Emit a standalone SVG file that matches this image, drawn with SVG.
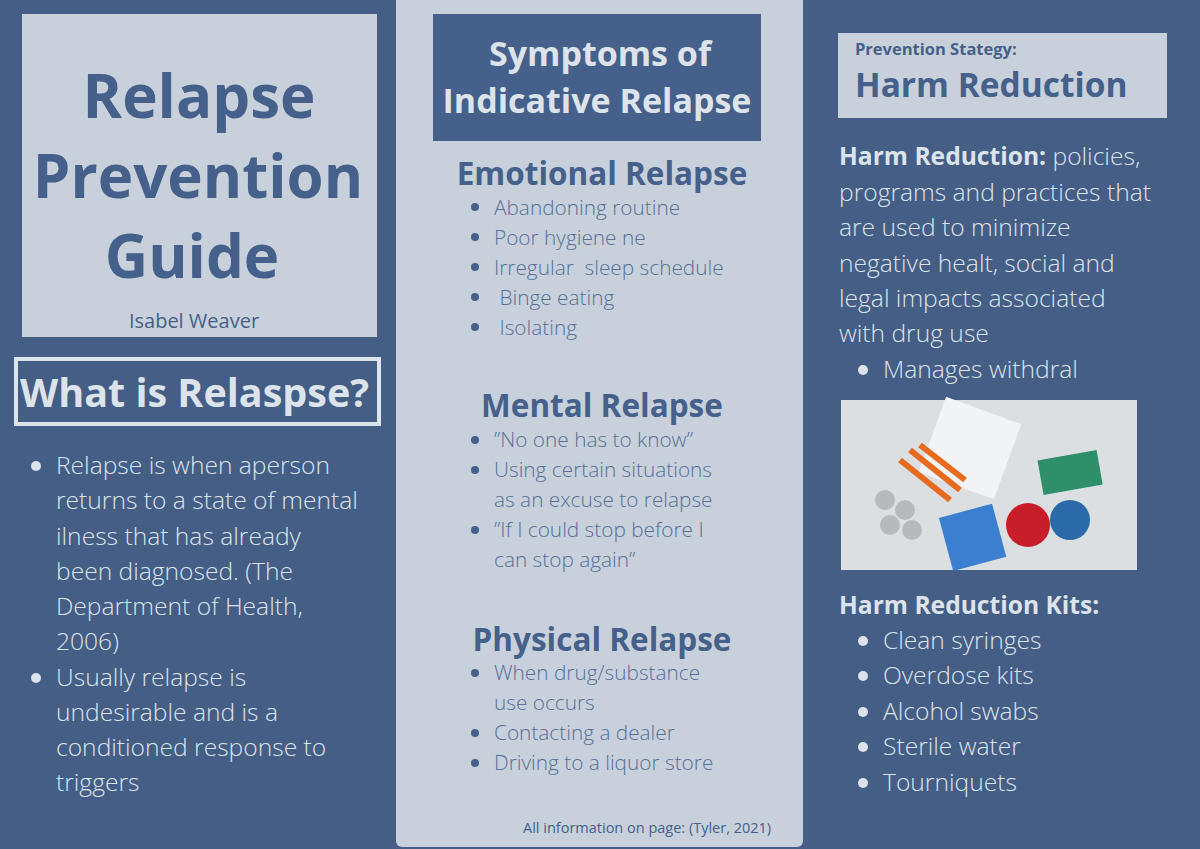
<svg xmlns="http://www.w3.org/2000/svg" width="1200" height="849" viewBox="0 0 1200 849">
<style>
text{font-family:"Open Sans","Noto Sans","Liberation Sans",sans-serif}
.b{font-weight:bold}
.dk{fill:#45608a}
.lt{fill:#dde3ea}
.mid{font-size:20.8px;fill:#56709a;font-weight:300}
.side{font-size:24.6px;fill:#dde3ea;font-weight:300}
</style>
<rect width="1200" height="849" fill="#445e86"/>
<g id="title">
<rect x="22" y="14" width="355" height="323" fill="#c8d1db"/>
<text x="199" y="118" text-anchor="middle" class="b dk" font-size="60">Relapse</text>
<text x="198" y="198" text-anchor="middle" class="b dk" font-size="60">Prevention</text>
<text x="192" y="278" text-anchor="middle" class="b dk" font-size="60">Guide</text>
<text x="194" y="328" text-anchor="middle" class="dk" font-size="20">Isabel Weaver</text>
</g>
<g id="what">
<rect x="16" y="359" width="363" height="65" fill="none" stroke="#dde3ea" stroke-width="4"/>
<text x="20" y="407" class="b lt" font-size="39.5">What is Relaspse?</text>
<g fill="#dde3ea"><circle cx="36" cy="466" r="5"/><circle cx="36" cy="678" r="5"/></g>
<text class="side"><tspan x="56" y="474">Relapse is when aperson</tspan><tspan x="56" y="509">returns to a state of mental</tspan><tspan x="56" y="545">ilness that has already</tspan><tspan x="56" y="580">been diagnosed. (The</tspan><tspan x="56" y="615">Department of Health,</tspan><tspan x="56" y="650">2006)</tspan><tspan x="56" y="686">Usually relapse is</tspan><tspan x="56" y="721">undesirable and is a</tspan><tspan x="56" y="756">conditioned response to</tspan><tspan x="56" y="791">triggers</tspan></text>
</g>
<g id="middle">
<rect x="396" y="-10" width="407" height="857" rx="6" fill="#c8d1db"/>
<rect x="433" y="14" width="328" height="127" fill="#45608a"/>
<text x="600" y="66" text-anchor="middle" class="b lt" font-size="34">Symptoms of</text>
<text x="597" y="113" text-anchor="middle" class="b lt" font-size="34">Indicative Relapse</text>
<text x="602" y="185" text-anchor="middle" class="b dk" font-size="31.5">Emotional Relapse</text>
<text x="602" y="417" text-anchor="middle" class="b dk" font-size="31.5">Mental Relapse</text>
<text x="602" y="651" text-anchor="middle" class="b dk" font-size="31.5">Physical Relapse</text>
<g fill="#45608a">
<circle cx="475" cy="207" r="4"/><circle cx="475" cy="237" r="4"/><circle cx="475" cy="267" r="4"/><circle cx="475" cy="297" r="4"/><circle cx="475" cy="327" r="4"/>
<circle cx="475" cy="440" r="4"/><circle cx="475" cy="470" r="4"/><circle cx="475" cy="530" r="4"/>
<circle cx="475" cy="673" r="4"/><circle cx="475" cy="733" r="4"/><circle cx="475" cy="763" r="4"/>
</g>
<text class="mid" xml:space="preserve"><tspan x="494" y="215">Abandoning routine</tspan><tspan x="494" y="245">Poor hygiene ne</tspan><tspan x="494" y="275">Irregular  sleep schedule</tspan><tspan x="494" y="305"> Binge eating</tspan><tspan x="494" y="335"> Isolating</tspan><tspan x="494" y="447">”No one has to know”</tspan><tspan x="494" y="477">Using certain situations</tspan><tspan x="494" y="507">as an excuse to relapse</tspan><tspan x="494" y="537">”If I could stop before I</tspan><tspan x="494" y="567">can stop again”</tspan><tspan x="494" y="680">When drug/substance</tspan><tspan x="494" y="710">use occurs</tspan><tspan x="494" y="740">Contacting a dealer</tspan><tspan x="494" y="770">Driving to a liquor store</tspan></text>
<text x="523" y="833" class="dk" font-size="14.5">All information on page: (Tyler, 2021)</text>
</g>
<g id="right">
<rect x="838" y="33" width="329" height="85" fill="#c8d1db"/>
<text x="855" y="55" class="b dk" font-size="16.5">Prevention Stategy:</text>
<text x="855" y="97" class="b dk" font-size="33.5">Harm Reduction</text>
<text class="side"><tspan x="839" y="165" font-weight="bold">Harm Reduction:</tspan><tspan> policies,</tspan><tspan x="839" y="201">programs and practices that</tspan><tspan x="839" y="236">are used to minimize</tspan><tspan x="839" y="272">negative healt, social and</tspan><tspan x="839" y="307">legal impacts associated</tspan><tspan x="839" y="342">with drug use</tspan><tspan x="883" y="378">Manages withdral</tspan></text>
<circle cx="863" cy="370" r="5" fill="#dde3ea"/>
<g id="photo">
<rect x="841" y="400" width="296" height="170" fill="#dcdfe2"/>
<rect x="930" y="408" width="80" height="80" fill="#f2f3f5" transform="rotate(20 970 448)"/>
<rect x="1040" y="455" width="60" height="35" fill="#2e8f6a" transform="rotate(-10 1070 472)"/>
<rect x="945" y="510" width="55" height="55" fill="#3b7fd0" transform="rotate(-15 972 537)"/>
<circle cx="1028" cy="525" r="22" fill="#c81e2a"/>
<circle cx="1070" cy="520" r="20" fill="#2b6aa8"/>
<g fill="#b7b9bb"><circle cx="885" cy="500" r="10"/><circle cx="905" cy="510" r="10"/><circle cx="890" cy="525" r="10"/><circle cx="912" cy="530" r="10"/></g>
<g stroke="#e86a1f" stroke-width="6"><line x1="900" y1="460" x2="950" y2="500"/><line x1="910" y1="450" x2="960" y2="490"/><line x1="920" y1="445" x2="965" y2="480"/></g>
</g>
<text x="839" y="614" class="b lt" font-size="24.6">Harm Reduction Kits:</text>
<g fill="#dde3ea"><circle cx="863" cy="641" r="5"/><circle cx="863" cy="676" r="5"/><circle cx="863" cy="712" r="5"/><circle cx="863" cy="747" r="5"/><circle cx="863" cy="783" r="5"/></g>
<text class="side"><tspan x="883" y="649">Clean syringes</tspan><tspan x="883" y="684">Overdose kits</tspan><tspan x="883" y="720">Alcohol swabs</tspan><tspan x="883" y="755">Sterile water</tspan><tspan x="883" y="791">Tourniquets</tspan></text>
</g>
</svg>
